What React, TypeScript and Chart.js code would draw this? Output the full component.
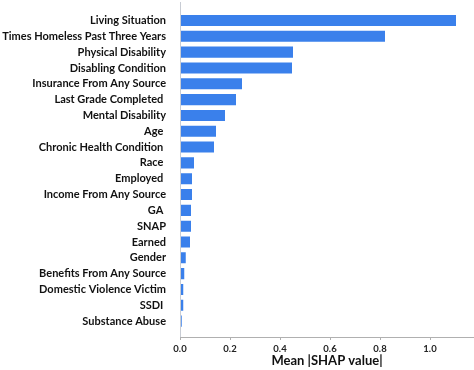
import React, { useEffect, useRef } from "react";
import { Chart, registerables } from "chart.js";

Chart.register(...registerables);

const features = [
  "Living Situation",
  "Times Homeless Past Three Years",
  "Physical Disability",
  "Disabling Condition",
  "Insurance From Any Source",
  "Last Grade Completed ",
  "Mental Disability",
  "Age ",
  "Chronic Health Condition ",
  "Race ",
  "Employed ",
  "Income From Any Source",
  "GA ",
  "SNAP",
  "Earned",
  "Gender",
  "Benefits From Any Source",
  "Domestic Violence Victim",
  "SSDI ",
  "Substance Abuse",
];

const meanShap = [
  1.104, 0.82, 0.452, 0.448, 0.248, 0.224, 0.18, 0.144, 0.136, 0.056,
  0.048, 0.048, 0.044, 0.044, 0.04, 0.023, 0.017, 0.013, 0.013, 0.007,
];

const xTicks = [0, 0.2, 0.4, 0.6, 0.8, 1.0];
const xTitle = "Mean |SHAP value|";

const FONT = "Lato";

export default function App() {
  const ref = useRef<HTMLCanvasElement | null>(null);

  useEffect(() => {
    if (!ref.current) return;
    const axisPlugin = {
      id: "shapAxes",
      afterDraw(chart: any) {
        const { ctx, chartArea } = chart;
        ctx.save();
        ctx.strokeStyle = "#c8ccd4";
        ctx.lineWidth = 1;
        ctx.beginPath();
        ctx.moveTo(chartArea.left + 0.5, 2);
        ctx.lineTo(chartArea.left + 0.5, 337);
        ctx.stroke();
        ctx.strokeStyle = "#b0b0b0";
        ctx.beginPath();
        ctx.moveTo(chartArea.left, 337.5);
        ctx.lineTo(chart.width, 337.5);
        ctx.stroke();
        const xs = chart.scales.x;
        xTicks.forEach((v) => {
          const px = Math.round(xs.getPixelForValue(v)) + 0.5;
          ctx.beginPath();
          ctx.moveTo(px, 337);
          ctx.lineTo(px, 340);
          ctx.stroke();
        });
        ctx.restore();
      },
    };

    const chart = new Chart(ref.current, {
      type: "bar",
      data: {
        labels: features,
        datasets: [
          {
            data: meanShap,
            backgroundColor: "rgb(58,128,235)",
            borderWidth: 0,
            barPercentage: 0.7,
            categoryPercentage: 1,
          },
        ],
      },
      options: {
        indexAxis: "y",
        animation: false,
        responsive: false,
        maintainAspectRatio: false,
        layout: { padding: { top: 2, right: 0, left: 0, bottom: 0 } },
        plugins: { legend: { display: false }, tooltip: { enabled: false } },
        scales: {
          x: {
            min: 0,
            max: 1.176,
            border: { display: false },
            grid: { display: false },
            afterBuildTicks: (s: any) => {
              s.ticks = xTicks.map((v) => ({ value: v }));
            },
            afterFit: (s: any) => {
              s.height = 41;
            },
            ticks: {
              padding: 6,
              color: "#222",
              font: { family: FONT, size: 9.5, weight: "bold" },
              callback: (v: any) => Number(v).toFixed(1),
            },
            title: {
              display: true,
              text: xTitle,
              color: "#111",
              font: { family: FONT, size: 13, weight: "bold" },
              padding: { top: 2, bottom: 1 },
            },
          },
          y: {
            border: { display: false },
            grid: { display: false },
            afterFit: (s: any) => {
              s.width = 180;
            },
            ticks: {
              padding: 6,
              color: "#111",
              font: { family: FONT, size: 11, weight: "bold" },
              autoSkip: false,
            },
          },
        },
      },
      plugins: [axisPlugin],
    });
    return () => chart.destroy();
  }, []);

  return (
    <div style={{ position: "fixed", left: 0, top: 0, width: 474, height: 370, background: "#fff" }}>
      <canvas ref={ref} width={474} height={370} style={{ display: "block" }} />
    </div>
  );
}
